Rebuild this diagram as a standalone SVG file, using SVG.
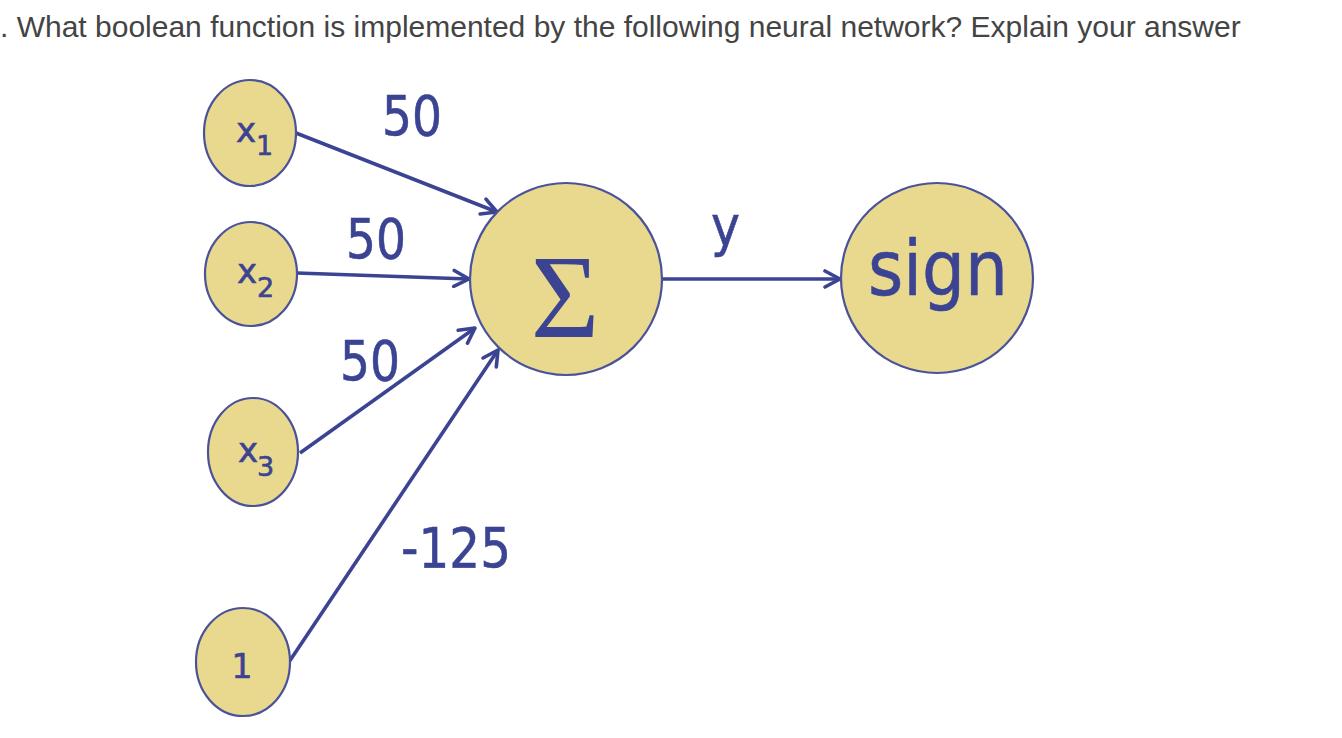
<svg xmlns="http://www.w3.org/2000/svg" width="1342" height="738" viewBox="0 0 1342 738">
<style>
.node{fill:#e9d98e;stroke:#4a529a;stroke-width:2.2}
.lbl{fill:#3b4393;stroke:#3b4393;stroke-width:0.6;font-family:"DejaVu Sans","Liberation Sans",sans-serif}
.edge{stroke:#3b4393;stroke-width:3.6;fill:none;marker-end:url(#arr)}
.title{fill:#444;font-family:"Liberation Sans",Arial,sans-serif;font-size:30px}
</style>
<defs>
<marker id="arr" markerUnits="userSpaceOnUse" viewBox="0 -10 20 20" markerWidth="20" markerHeight="20" refX="18" refY="0" orient="auto">
<path d="M3,-8 L18,0 L3,8" fill="none" stroke="#3b4393" stroke-width="3.6" stroke-linecap="round" stroke-linejoin="round"/>
</marker>
</defs>
<rect width="1342" height="738" fill="#fff"/>
<text class="title" x="0" y="37">. What boolean function is implemented by the following neural network? Explain your answer</text>
<g id="connectors">
<line class="edge" x1="296" y1="133" x2="497" y2="212"/>
<line class="edge" x1="297" y1="273" x2="469" y2="279"/>
<line class="edge" x1="300" y1="453" x2="475" y2="328"/>
<line class="edge" x1="289" y1="662" x2="498" y2="350"/>
<line class="edge" x1="662" y1="279" x2="840" y2="279"/>
<text class="lbl" x="382" y="135" font-size="55" textLength="60" lengthAdjust="spacingAndGlyphs">50</text>
<text class="lbl" x="346" y="258" font-size="55" textLength="60" lengthAdjust="spacingAndGlyphs">50</text>
<text class="lbl" x="340" y="380" font-size="55" textLength="60" lengthAdjust="spacingAndGlyphs">50</text>
<text class="lbl" x="401" y="567" font-size="55" textLength="110" lengthAdjust="spacingAndGlyphs">-125</text>
<text class="lbl" x="711" y="245" font-size="55" textLength="29" lengthAdjust="spacingAndGlyphs">y</text>
</g>
<g id="node-x1">
<ellipse class="node" cx="250" cy="133" rx="46" ry="53"/>
<text class="lbl" x="236" y="142" font-size="34">x</text>
<text class="lbl" x="256" y="155" font-size="27">1</text>
</g>
<g id="node-x2">
<ellipse class="node" cx="251" cy="274" rx="46" ry="52"/>
<text class="lbl" x="237" y="283" font-size="34">x</text>
<text class="lbl" x="257" y="297" font-size="27">2</text>
</g>
<g id="node-x3">
<ellipse class="node" cx="253" cy="452" rx="45" ry="54"/>
<text class="lbl" x="238" y="462" font-size="34">x</text>
<text class="lbl" x="257" y="476" font-size="27">3</text>
</g>
<g id="node-bias">
<ellipse class="node" cx="243" cy="662" rx="47" ry="54"/>
<text class="lbl" x="242" y="678" font-size="33" text-anchor="middle">1</text>
</g>
<g id="node-sum">
<ellipse class="node" cx="566" cy="279" rx="96" ry="96"/>
<text x="565" y="337" font-size="118" text-anchor="middle" fill="#3b4393" font-family="'Liberation Serif','DejaVu Serif',serif">Σ</text>
</g>
<g id="node-sign">
<ellipse class="node" cx="937" cy="278" rx="96" ry="95"/>
<text class="lbl" x="868" y="295" font-size="76" textLength="140" lengthAdjust="spacingAndGlyphs">sign</text>
</g>
</svg>
